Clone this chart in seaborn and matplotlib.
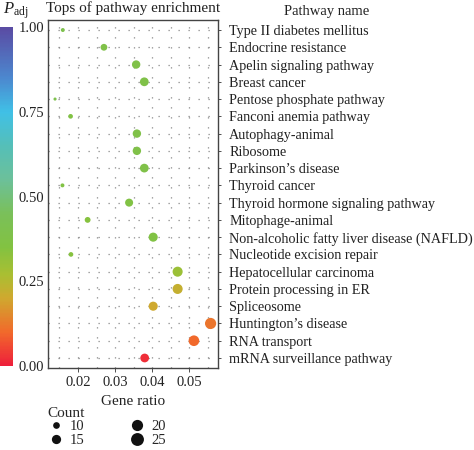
import numpy as np
import pandas as pd
import matplotlib
matplotlib.use("Agg")
import matplotlib.pyplot as plt
from matplotlib.colors import LinearSegmentedColormap, Normalize
from matplotlib.lines import Line2D
from matplotlib.ticker import MultipleLocator
import seaborn as sns

pathways = [
    "Type II diabetes mellitus", "Endocrine resistance", "Apelin signaling pathway",
    "Breast cancer", "Pentose phosphate pathway", "Fanconi anemia pathway",
    "Autophagy-animal", "Ribosome", "Parkinson\u2019s disease", "Thyroid cancer",
    "Thyroid hormone signaling pathway", "Mitophage-animal",
    "Non-alcoholic fatty liver disease (NAFLD)", "Nucleotide excision repair",
    "Hepatocellular carcinoma", "Protein processing in ER", "Spliceosome",
    "Huntington\u2019s disease", "RNA transport", "mRNA surveillance pathway",
]
gene_ratio = [0.0159, 0.0270, 0.0357, 0.0379, 0.0138, 0.0180, 0.0359, 0.0359,
              0.0379, 0.0158, 0.0338, 0.0226, 0.0403, 0.0181, 0.0469, 0.0469,
              0.0403, 0.0558, 0.0513, 0.0380]
count = [7, 12, 16, 17, 6, 8, 16, 16, 17, 7, 15, 10, 18, 8, 21, 21, 18, 25, 23, 17]
p_adj = [0.40, 0.38, 0.38, 0.38, 0.40, 0.36, 0.38, 0.38, 0.38, 0.36,
         0.36, 0.34, 0.36, 0.34, 0.30, 0.22, 0.20, 0.12, 0.10, 0.02]
legend_counts = [10, 15, 20, 25]
x_ticks = [0.02, 0.03, 0.04, 0.05]
cbar_ticks = [0.00, 0.25, 0.50, 0.75, 1.00]

df = pd.DataFrame({"pathway": pathways, "ratio": gene_ratio,
                   "count": count, "padj": p_adj})

cmap = LinearSegmentedColormap.from_list("padj", [
    (0.00, "#ee1f3b"), (0.10, "#f16a2b"), (0.20, "#cfa92f"), (0.27, "#a9bf32"),
    (0.35, "#82c241"), (0.45, "#7ac05a"), (0.55, "#6cc09a"), (0.65, "#55bfb8"),
    (0.75, "#40c0e6"), (0.85, "#4c88cf"), (1.00, "#5a4ba3")])

sns.set_theme(style="white")
serif = ["Liberation Serif", "DejaVu Serif"]
plt.rcParams["font.family"] = serif
plt.rcParams["mathtext.fontset"] = "custom"
plt.rcParams["mathtext.it"] = "Liberation Serif:italic"
plt.rcParams["mathtext.rm"] = "Liberation Serif"

W, H = 474, 450
fig = plt.figure(figsize=(W / 100, H / 100), dpi=100)
ax = fig.add_axes([48 / W, 1 - 368 / H, 170 / W, 348 / H])

size_min, size_max = 5, 65
size_norm = (6, 25)
sns.scatterplot(data=df, x="ratio", y="pathway", hue="padj", palette=cmap,
                hue_norm=(0, 1), size="count", sizes=(size_min, size_max),
                size_norm=size_norm, legend=False, linewidth=0, ax=ax, zorder=3)

n = len(pathways)
ax.set_ylim(n - 0.42, -0.58)
ax.set_xlim(0.0119, 0.0578)
ax.set_xticks(x_ticks)
ax.set_xticklabels([f"{t:.2f}" for t in x_ticks])
ax.xaxis.set_minor_locator(MultipleLocator(0.005))
ax.yaxis.tick_right()
ax.set_yticks(range(n))
ax.set_yticklabels(pathways)
ax.tick_params(axis="y", which="both", direction="out", length=2, width=0.6,
               right=True, left=False, labelsize=10.2, pad=6, color="#333333")
ax.tick_params(axis="x", which="major", direction="out", length=3, width=0.6,
               bottom=True, labelsize=10.5, pad=3, color="#333333")
ax.tick_params(axis="x", which="minor", length=0)
for t in ax.get_xticklabels() + ax.get_yticklabels():
    t.set_color("#222222")
ax.grid(True, axis="y", which="major", linestyle=(0, (1, 7)), color="#8a8a8a", lw=0.9)
ax.grid(True, axis="x", which="both", linestyle=(0, (1, 7)), color="#8a8a8a", lw=0.9)
for s in ax.spines.values():
    s.set_color("#444444")
    s.set_linewidth(1.0)
ax.set_xlabel("Gene ratio", fontsize=11, labelpad=4, color="#222222")
ax.set_ylabel("")

ax.set_title("Tops of pathway enrichment", fontsize=11, pad=6, color="#222222")
fig.text(327 / W, 1 - 12 / H, "Pathway name", ha="center", va="center",
         fontsize=10.5, color="#222222")

# colorbar
cax = fig.add_axes([0.0, 1 - 366 / H, 13 / W, 339 / H])
sm = plt.cm.ScalarMappable(norm=Normalize(0, 1), cmap=cmap)
cb = fig.colorbar(sm, cax=cax, ticks=cbar_ticks)
cb.outline.set_visible(False)
cb.ax.tick_params(length=0, labelsize=10.5, pad=4, colors="#222222")
cb.ax.set_yticklabels([f"{t:.2f}" for t in cbar_ticks])
fig.text(3 / W, 1 - 11 / H, r"$P_{\mathrm{adj}}$", ha="left", va="center",
         fontsize=12, color="#222222")

# size legend
cmin, cmax = size_norm
handles = []
for c in legend_counts:
    s = size_min + (c - cmin) / (cmax - cmin) * (size_max - size_min)
    handles.append(Line2D([], [], marker="o", linestyle="", color="#111111",
                          markersize=np.sqrt(s) * 1.15, markeredgewidth=0))
leg = fig.legend(handles, [str(c) for c in legend_counts], title="Count", ncol=2,
                 loc="upper left", bbox_to_anchor=(40 / W, 1 - 400 / H),
                 frameon=False, fontsize=10.5, title_fontsize=11,
                 handletextpad=0.35, columnspacing=3.0, labelspacing=0.0,
                 borderpad=0, handlelength=1.2, alignment="left")

fig.savefig("out.png", dpi=100)
